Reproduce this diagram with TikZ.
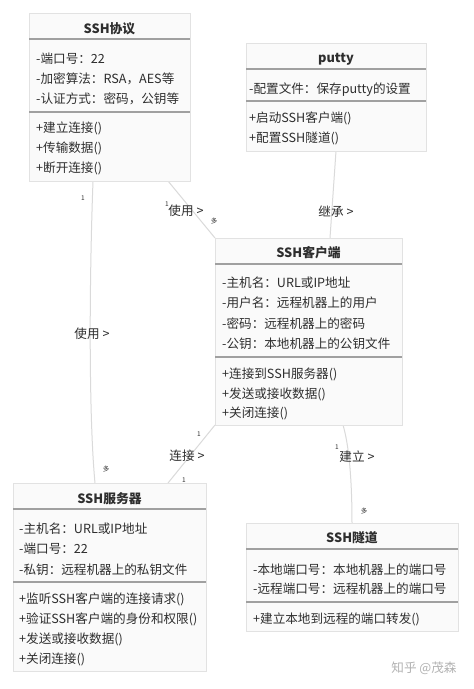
\documentclass[tikz,border=0pt]{standalone}
\usepackage{fontspec}
\setmainfont{Noto Sans CJK SC}
\usetikzlibrary{calc}
\definecolor{boxfill}{HTML}{FAFAFA}
\definecolor{boxline}{HTML}{E2E2E2}
\definecolor{sepline}{HTML}{A0A0A0}
\definecolor{conn}{HTML}{DADADA}
\definecolor{txtc}{HTML}{2E2E2E}
\tikzset{
  umlbox/.style={draw=boxline, fill=boxfill, line width=0.9pt, anchor=north west, inner sep=0pt, outer sep=0pt, rectangle},
  sepl/.style={draw=sepline, line width=1.1pt},
  txt/.style={anchor=west, inner sep=0pt, text=txtc, font=\fontsize{12.6}{14}\selectfont},
  ttl/.style={anchor=center, inner sep=0pt, text=txtc, font=\fontsize{12.8}{14}\selectfont\bfseries},
  connl/.style={draw=conn, line width=1pt},
  lbl/.style={inner sep=0pt, text=txtc, font=\fontsize{12.6}{14}\selectfont},
  mult/.style={inner sep=0pt, text=txtc, font=\fontsize{6.5}{7}\selectfont}
}
\begin{document}
\begin{tikzpicture}[x=1pt,y=-1pt]
\useasboundingbox[fill=white] (0,0) rectangle (474,689);

% ---------- connectors (behind boxes) ----------
\path (29,13) node[umlbox, minimum width=161pt, minimum height=168pt, draw=none, fill=none] (proto) {};
\path (246,43) node[umlbox, minimum width=180pt, minimum height=108pt, draw=none, fill=none] (putty) {};
\path (215,238) node[umlbox, minimum width=187pt, minimum height=187pt, draw=none, fill=none] (client) {};
\path (13,483) node[umlbox, minimum width=193pt, minimum height=188pt, draw=none, fill=none] (server) {};
\path (246,523) node[umlbox, minimum width=212pt, minimum height=108pt, draw=none, fill=none] (tunnel) {};

\draw[connl] ([xshift=-22pt]proto.south east) -- (client.north west);
\draw[connl] ([xshift=-16.5pt]proto.south) .. controls (89,290) and (89,420) .. ([xshift=-14.5pt]server.north);
\draw[connl] (client.south west) -- ([xshift=-38pt]server.north east);
\draw[connl] ([xshift=34.5pt]client.south) .. controls (349,445) and (352,480) .. (tunnel.north);
\draw[connl] (putty.south) -- ([xshift=21.5pt]client.north);

% ---------- box frames ----------
\node[umlbox, minimum width=161pt, minimum height=168pt] (protoF) at (29,13) {};
\node[umlbox, minimum width=180pt, minimum height=108pt] (puttyF) at (246,43) {};
\node[umlbox, minimum width=187pt, minimum height=187pt] (clientF) at (215,238) {};
\node[umlbox, minimum width=193pt, minimum height=188pt] (serverF) at (13,483) {};
\node[umlbox, minimum width=212pt, minimum height=108pt] (tunnelF) at (246,523) {};

% separators
\draw[sepl] (protoF.west |- 0,39) -- (protoF.east |- 0,39);
\draw[sepl] (protoF.west |- 0,112) -- (protoF.east |- 0,112);
\draw[sepl] (puttyF.west |- 0,69) -- (puttyF.east |- 0,69);
\draw[sepl] (puttyF.west |- 0,101) -- (puttyF.east |- 0,101);
\draw[sepl] (clientF.west |- 0,264) -- (clientF.east |- 0,264);
\draw[sepl] (clientF.west |- 0,357) -- (clientF.east |- 0,357);
\draw[sepl] (serverF.west |- 0,509) -- (serverF.east |- 0,509);
\draw[sepl] (serverF.west |- 0,582) -- (serverF.east |- 0,582);
\draw[sepl] (tunnelF.west |- 0,549) -- (tunnelF.east |- 0,549);
\draw[sepl] (tunnelF.west |- 0,602) -- (tunnelF.east |- 0,602);

% ---------- SSH协议 ----------
\node[ttl] (protoT) at (109.5,29) {SSH协议};
\node[txt] (protoA1) at (36,59) {-端口号：22};
\node[txt] (protoA2) at (36,79) {-加密算法：RSA，AES等};
\node[txt] (protoA3) at (36,99) {-认证方式：密码，公钥等};
\node[txt] (protoM1) at (36,128) {+建立连接()};
\node[txt] (protoM2) at (36,148) {+传输数据()};
\node[txt] (protoM3) at (36,168) {+断开连接()};

% ---------- putty ----------
\node[ttl] (puttyT) at (336,59) {putty};
\node[txt] (puttyA1) at (249,90) {-配置文件：保存putty的设置};
\node[txt] (puttyM1) at (249,118) {+启动SSH客户端()};
\node[txt] (puttyM2) at (249,138) {+配置SSH隧道()};

% ---------- SSH客户端 ----------
\node[ttl] (clientT) at (308.5,253) {SSH客户端};
\node[txt] (clientA1) at (222,283) {-主机名：URL或IP地址};
\node[txt] (clientA2) at (222,303) {-用户名：远程机器上的用户};
\node[txt] (clientA3) at (222,324) {-密码：远程机器上的密码};
\node[txt] (clientA4) at (222,344) {-公钥：本地机器上的公钥文件};
\node[txt] (clientM1) at (222,374) {+连接到SSH服务器()};
\node[txt] (clientM2) at (222,394) {+发送或接收数据()};
\node[txt] (clientM3) at (222,413) {+关闭连接()};

% ---------- SSH服务器 ----------
\node[ttl] (serverT) at (109.5,499) {SSH服务器};
\node[txt] (serverA1) at (19,529) {-主机名：URL或IP地址};
\node[txt] (serverA2) at (19,549) {-端口号：22};
\node[txt] (serverA3) at (19,570) {-私钥：远程机器上的私钥文件};
\node[txt] (serverM1) at (19,599) {+监听SSH客户端的连接请求()};
\node[txt] (serverM2) at (19,619) {+验证SSH客户端的身份和权限()};
\node[txt] (serverM3) at (19,639) {+发送或接收数据()};
\node[txt] (serverM4) at (19,659) {+关闭连接()};

% ---------- SSH隧道 ----------
\node[ttl] (tunnelT) at (352,538) {SSH隧道};
\node[txt] (tunnelA1) at (253,570) {-本地端口号：本地机器上的端口号};
\node[txt] (tunnelA2) at (253,589) {-远程端口号：远程机器上的端口号};
\node[txt] (tunnelM1) at (253,619) {+建立本地到远程的端口转发()};

% ---------- connector labels ----------
\node[lbl] (l1) at (186,211) {使用 >};
\node[mult] (l1a) at (167,204) {1};
\node[mult] (l1b) at (214,221) {多};

\node[lbl] (l2) at (92,334) {使用 >};
\node[mult] (l2a) at (83,198) {1};
\node[mult] (l2b) at (106,469) {多};

\node[lbl] (l3) at (187,456) {连接 >};
\node[mult] (l3a) at (199,434) {1};
\node[mult] (l3b) at (184,480) {1};

\node[lbl] (l4) at (357,457) {建立 >};
\node[mult] (l4a) at (337,447) {1};
\node[mult] (l4b) at (364,511) {多};

\node[lbl] (l5) at (336,212) {继承 >};

% watermark
\node[lbl, text=black!30] (wm) at (424,668) {知乎 @茂森};
\end{tikzpicture}
\end{document}
